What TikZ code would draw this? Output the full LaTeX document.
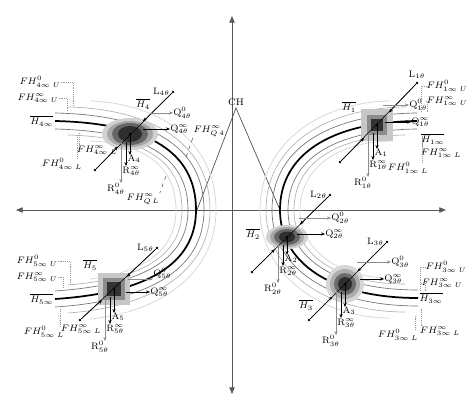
\documentclass[tikz,border=0pt]{standalone}
\usepackage{amsmath}
\usepackage{amssymb}
\usepackage{tikz}
\usetikzlibrary{positioning,arrows.meta,calc}

\begin{document}
\begin{tikzpicture}[
    x=0.75pt, y=-0.75pt,
    every node/.style={font=\fontsize{7.2}{8}\selectfont, inner sep=0pt},
    axisline/.style={draw=black!65, line width=0.6pt},
    thickband/.style={black, line width=1.3pt},
    midband/.style={black!55, line width=0.5pt},
    lightband/.style={black!30, line width=0.5pt},
    faintband/.style={black!15, line width=0.6pt},
    ptr/.style={-{Stealth[length=3pt,width=2.4pt]}, line width=0.4pt},
    greyptr/.style={ptr, black!45},
    enddot/.style={circle, fill=black, inner sep=0pt, minimum size=2.2pt},
    fhlead/.style={black!40, densely dotted, line width=0.4pt},
    qlead/.style={black!65, dashed, line width=0.4pt}
]
\useasboundingbox[fill=white] (0,0) rectangle (474,410);

% Axes and CH
\coordinate (xl) at (16,210);
\coordinate (xr) at (446,210);
\coordinate (yt) at (232,16);
\coordinate (yb) at (232,394);
\draw[axisline, {Triangle[length=5pt,width=4pt]}-{Triangle[length=5pt,width=4pt]}] (xl) -- (xr);
\draw[axisline, {Triangle[length=5pt,width=4pt]}-{Triangle[length=5pt,width=4pt]}] (yt) -- (yb);
\coordinate (chl) at (197,210);
\coordinate (chtop) at (236,108);
\coordinate (chr) at (280,210);
\draw[black!70, line width=0.5pt] (chl) -- (chtop) -- (chr);
\node[above=1.5pt of chtop] (chlab) {CH};

% Left branch
\coordinate (b4) at (55,121);
\coordinate (b5) at (55,299);
\draw[faintband] (90,101) .. controls (155,103) and (216,138) .. (216,210) .. controls (216,277) and (155,313) .. (90,319);
\draw[faintband] (90,141) .. controls (138,143) and (176,162) .. (176,210) .. controls (176,254) and (138,273) .. (90,279);
\draw[lightband] (68,107) .. controls (150,109) and (210,142) .. (210,210) .. controls (210,273) and (150,307) .. (68,313);
\draw[lightband] (68,135) .. controls (140,137) and (182,158) .. (182,210) .. controls (182,257) and (140,279) .. (68,285);
\draw[midband] (55,113) .. controls (148,115) and (204,145) .. (204,210) .. controls (204,270) and (148,301) .. (55,307);
\draw[midband] (55,129) .. controls (142,131) and (188,155) .. (188,210) .. controls (188,260) and (142,285) .. (55,291);
\draw[thickband] (b4) .. controls (145,123) and (196,150) .. (196,210) .. controls (196,265) and (145,293) .. (b5);

% Right branch
\coordinate (b1) at (417,121);
\coordinate (b3) at (418,298);
\draw[faintband] (390,101) .. controls (322,102) and (260,142) .. (260,210) .. controls (260,275) and (322,318) .. (390,318);
\draw[faintband] (390,141) .. controls (338,142) and (300,168) .. (300,210) .. controls (300,249) and (338,278) .. (390,278);
\draw[lightband] (405,107) .. controls (325,108) and (266,146) .. (266,210) .. controls (266,271) and (325,312) .. (405,312);
\draw[lightband] (405,135) .. controls (335,136) and (294,164) .. (294,210) .. controls (294,253) and (335,284) .. (405,284);
\draw[midband] (417,113) .. controls (327,114) and (272,150) .. (272,210) .. controls (272,267) and (327,306) .. (418,306);
\draw[midband] (417,129) .. controls (333,130) and (288,160) .. (288,210) .. controls (288,257) and (333,290) .. (418,290);
\draw[thickband] (b1) .. controls (330,122) and (280,155) .. (280,210) .. controls (280,262) and (330,298) .. (b3);

% H4
\coordinate (h4) at (130,134);
\fill[black!18] (h4) ellipse [x radius=28, y radius=16];
\fill[black!35] (h4) ellipse [x radius=23, y radius=13];
\fill[black!60] (h4) ellipse [x radius=18, y radius=11];
\fill[black!82] (h4) ellipse [x radius=12, y radius=8];
\fill[black] (h4) circle (1.5);
\node[enddot] (l4a) at (173,92) {};
\node[enddot] (l4b) at (95,170) {};
\draw[line width=0.4pt] (l4a) -- (l4b);
\draw[ptr] (l4a) -- ($(h4)!0.3!(l4a)$);
\draw[ptr] (l4b) -- ($(h4)!0.35!(l4b)$);
\node[left=1pt of l4a] (l4lab) {$\mathrm{L}_{4\theta}$};
\node (h4lab) at (143,104) {$\overline{H_4}$};
\node[anchor=west] (q4zero) at (173,113) {$\mathrm{Q}^{0}_{4\theta}$};
\node[anchor=west] (q4inf) at (170,129) {$\mathrm{Q}^{\infty}_{4\theta}$};
\draw[greyptr] ($(h4)+(20,-21)$) -- (q4zero.west);
\draw[ptr] ($(h4)+(13,-5)$) -- (q4inf.west);
\draw[ptr] (h4) -- ++(0,21) coordinate (a4end);
\draw[ptr] ($(h4)+(-4,8)$) -- ++(0,24) coordinate (r4iend);
\draw[greyptr] ($(h4)+(-9,8)$) -- ++(0,41) coordinate (r4zend);
\node[below right=0pt and -2pt of a4end] (a4) {$\mathrm{A}_4$};
\node[below right=0pt and -3pt of r4iend] (r4inf) {$\mathrm{R}^{\infty}_{4\theta}$};
\node[below left=0pt and -3pt of r4zend] (r4zero) {$\mathrm{R}^{0}_{4\theta}$};
\node[left=1pt of b4] (h4inf) {$\overline{H_{4\infty}}$};
\node (fhq4) at (209,131) {$FH^{\infty}_{Q\,4}$};
\coordinate (q4foot) at (186,157);
\draw[qlead] (q4foot) -- (fhq4.south west);
\node (fhql) at (143,199) {$FH^{\infty}_{Q\,L}$};
\coordinate (qlfoot) at (166,176);
\draw[qlead] (qlfoot) -- (fhql.north east);
\node (fh4uz) at (40,82) {$FH^{0}_{4\infty\;U}$};
\node (fh4ui) at (38,98) {$FH^{\infty}_{4\infty\;U}$};
\draw[fhlead] (fh4uz.east) -| (73,106);
\draw[fhlead] (fh4ui.east) -| (67,112);
\node (fh4lz) at (62,164) {$FH^{0}_{4\infty\;L}$};
\node (fh4li) at (97,150) {$FH^{\infty}_{4\infty\;L}$};
\draw[fhlead] (fh4lz.north east) ++(-5,0) -- ++(0,-23);
\draw[fhlead] (fh4li.north west) ++(3,0) -- ++(0,-12);

% H1
\coordinate (h1) at (377,125);
\fill[black!22] ($(h1)+(-16,-16)$) rectangle ($(h1)+(16,16)$);
\fill[black!45] ($(h1)+(-10,-10)$) rectangle ($(h1)+(10,10)$);
\fill[black!80] ($(h1)+(-6,-6)$) rectangle ($(h1)+(6,6)$);
\fill[black] (h1) circle (1.5);
\node[enddot] (l1a) at (417,83) {};
\node[enddot] (l1b) at (340,162) {};
\draw[line width=0.4pt] (l1a) -- (l1b);
\draw[ptr] (l1a) -- ($(h1)!0.3!(l1a)$);
\draw[ptr] (l1b) -- ($(h1)!0.35!(l1b)$);
\node[above=1.5pt of l1a] (l1lab) {$\mathrm{L}_{1\theta}$};
\node (h1lab) at (349,107) {$\overline{H_1}$};
\node[anchor=west] (q1zero) at (409,105) {$\mathrm{Q}^{0}_{1\theta}$};
\node[anchor=west] (q1inf) at (411,122) {$\mathrm{Q}^{\infty}_{1\theta}$};
\draw[greyptr] ($(h1)+(6,-20)$) -- (q1zero.west);
\draw[ptr] ($(h1)+(8,-3)$) -- (q1inf.west);
\node[anchor=west] (h1inf) at (421,139) {$\overline{H_{1\infty}}$};
\draw[ptr] (h1) -- ++(0,24) coordinate (a1end);
\draw[ptr] ($(h1)+(-4,8)$) -- ++(0,27) coordinate (r1iend);
\draw[greyptr] ($(h1)+(-9,8)$) -- ++(0,44) coordinate (r1zend);
\node[below right=0pt and -2pt of a1end] (a1) {$\mathrm{A}_1$};
\node[below right=0pt and -3pt of r1iend] (r1inf) {$\mathrm{R}^{\infty}_{1\theta}$};
\node[below left=0pt and -3pt of r1zend] (r1zero) {$\mathrm{R}^{0}_{1\theta}$};
\node (fh1uz) at (447,86) {$FH^{0}_{1\infty\;U}$};
\node (fh1ui) at (447,101) {$FH^{\infty}_{1\infty\;U}$};
\draw[fhlead] (fh1uz.west) -| (421,112);
\draw[fhlead] (fh1ui.west) -| (427,113);
\node (fh1lz) at (408,168) {$FH^{0}_{1\infty\;L}$};
\node (fh1li) at (441,153) {$FH^{\infty}_{1\infty\;L}$};
\draw[fhlead] (fh1lz.north east) ++(-6,0) -- ++(0,-25);
\draw[fhlead] (fh1li.north west) ++(2,0) -- ++(0,-13);

% H2
\coordinate (h2) at (287,237);
\fill[black!18] (h2) ellipse [x radius=21, y radius=12];
\fill[black!35] (h2) ellipse [x radius=17, y radius=10];
\fill[black!60] (h2) ellipse [x radius=13, y radius=8];
\fill[black!82] (h2) ellipse [x radius=8, y radius=5.5];
\fill[black] (h2) circle (1.5);
\node[enddot] (l2a) at (330,195) {};
\node[enddot] (l2b) at (252,272) {};
\draw[line width=0.4pt] (l2a) -- (l2b);
\draw[ptr] (l2a) -- ($(h2)!0.3!(l2a)$);
\draw[ptr] (l2b) -- ($(h2)!0.35!(l2b)$);
\node[left=1pt of l2a] (l2lab) {$\mathrm{L}_{2\theta}$};
\node (h2lab) at (253,234) {$\overline{H_2}$};
\node[anchor=west] (q2zero) at (331,218) {$\mathrm{Q}^{0}_{2\theta}$};
\node[anchor=west] (q2inf) at (325,234) {$\mathrm{Q}^{\infty}_{2\theta}$};
\draw[greyptr] ($(h2)+(12,-19)$) -- (q2zero.west);
\draw[ptr] ($(h2)+(10,-3)$) -- (q2inf.west);
\draw[ptr] (h2) -- ++(0,18) coordinate (a2end);
\draw[ptr] ($(h2)+(-4,8)$) -- ++(0,21) coordinate (r2iend);
\draw[greyptr] ($(h2)+(-9,8)$) -- ++(0,38) coordinate (r2zend);
\node[below right=0pt and -2pt of a2end] (a2) {$\mathrm{A}_2$};
\node[below right=0pt and -3pt of r2iend] (r2inf) {$\mathrm{R}^{\infty}_{2\theta}$};
\node[below left=0pt and -3pt of r2zend] (r2zero) {$\mathrm{R}^{0}_{2\theta}$};

% H3
\coordinate (h3) at (345,284);
\fill[black!16] (h3) circle (19);
\fill[black!32] (h3) circle (15);
\fill[black!58] (h3) circle (11);
\fill[black!82] (h3) circle (7);
\fill[black] (h3) circle (1.5);
\node[enddot] (l3a) at (387,242) {};
\node[enddot] (l3b) at (309,320) {};
\draw[line width=0.4pt] (l3a) -- (l3b);
\draw[ptr] (l3a) -- ($(h3)!0.3!(l3a)$);
\draw[ptr] (l3b) -- ($(h3)!0.35!(l3b)$);
\node[left=1pt of l3a] (l3lab) {$\mathrm{L}_{3\theta}$};
\node (h3lab) at (306,305) {$\overline{H_3}$};
\node[anchor=west] (q3zero) at (391,262) {$\mathrm{Q}^{0}_{3\theta}$};
\node[anchor=west] (q3inf) at (384,279) {$\mathrm{Q}^{\infty}_{3\theta}$};
\draw[greyptr] ($(h3)+(12,-22)$) -- (q3zero.west);
\draw[ptr] ($(h3)+(15,-5)$) -- (q3inf.west);
\draw[ptr] (h3) -- ++(0,23) coordinate (a3end);
\draw[ptr] ($(h3)+(-4,8)$) -- ++(0,26) coordinate (r3iend);
\draw[greyptr] ($(h3)+(-9,8)$) -- ++(0,43) coordinate (r3zend);
\node[below right=0pt and -2pt of a3end] (a3) {$\mathrm{A}_3$};
\node[below right=0pt and -3pt of r3iend] (r3inf) {$\mathrm{R}^{\infty}_{3\theta}$};
\node[below left=0pt and -3pt of r3zend] (r3zero) {$\mathrm{R}^{0}_{3\theta}$};
\node[right=1pt of b3] (h3inf) {$\overline{H_{3\infty}}$};
\node (fh3uz) at (446,267) {$FH^{0}_{3\infty\;U}$};
\node (fh3ui) at (442,283) {$FH^{\infty}_{3\infty\;U}$};
\draw[fhlead] (fh3uz.west) -| (420,291);
\draw[fhlead] (fh3ui.west) -| (425,292);
\node (fh3lz) at (398,335) {$FH^{0}_{3\infty\;L}$};
\node (fh3li) at (440,331) {$FH^{\infty}_{3\infty\;L}$};
\draw[fhlead] (fh3li.north west) ++(2,0) -- ++(0,-18);
\draw[fhlead] (fh3lz.north east) ++(-3,0) -- ++(0,-14);

% H5
\coordinate (h5) at (114,289);
\fill[black!22] ($(h5)+(-16,-16)$) rectangle ($(h5)+(16,16)$);
\fill[black!45] ($(h5)+(-11,-11)$) rectangle ($(h5)+(11,11)$);
\fill[black!80] ($(h5)+(-7,-7)$) rectangle ($(h5)+(7,7)$);
\fill[black] (h5) circle (1.5);
\node[enddot] (l5a) at (157,248) {};
\node[enddot] (l5b) at (80,320) {};
\draw[line width=0.4pt] (l5a) -- (l5b);
\draw[ptr] (l5a) -- ($(h5)!0.3!(l5a)$);
\draw[ptr] (l5b) -- ($(h5)!0.35!(l5b)$);
\node[left=1pt of l5a] (l5lab) {$\mathrm{L}_{5\theta}$};
\node (h5lab) at (90,265) {$\overline{H_5}$};
\node[anchor=south west] (q5zero) at (153,279) {$\mathrm{Q}^{0}_{5\theta}$};
\node[anchor=west] (q5inf) at (150,292) {$\mathrm{Q}^{\infty}_{5\theta}$};
\draw[greyptr] ($(h5)+(14,-10)$) -- (q5zero.south west);
\draw[ptr] ($(h5)+(12,3)$) -- (q5inf.west);
\draw[ptr] (h5) -- ++(0,24) coordinate (a5end);
\draw[ptr] ($(h5)+(-4,8)$) -- ++(0,27) coordinate (r5iend);
\draw[greyptr] ($(h5)+(-9,8)$) -- ++(0,44) coordinate (r5zend);
\node[below right=0pt and -2pt of a5end] (a5) {$\mathrm{A}_5$};
\node[below right=0pt and -3pt of r5iend] (r5inf) {$\mathrm{R}^{\infty}_{5\theta}$};
\node[below left=0pt and -3pt of r5zend] (r5zero) {$\mathrm{R}^{0}_{5\theta}$};
\node[left=1pt of b5] (h5inf) {$\overline{H_{5\infty}}$};
\node (fh5uz) at (37,261) {$FH^{0}_{5\infty\;U}$};
\node (fh5ui) at (37,277) {$FH^{\infty}_{5\infty\;U}$};
\draw[fhlead] (fh5uz.east) -| (70,285);
\draw[fhlead] (fh5ui.east) -| (63,288);
\node (fh5lz) at (44,332) {$FH^{0}_{5\infty\;L}$};
\node (fh5li) at (81,329) {$FH^{\infty}_{5\infty\;L}$};
\draw[fhlead] (fh5lz.north east) ++(-4,0) -- ++(0,-18);
\draw[fhlead] (fh5li.north west) -- ++(-3,-11);

\end{tikzpicture}
\end{document}
